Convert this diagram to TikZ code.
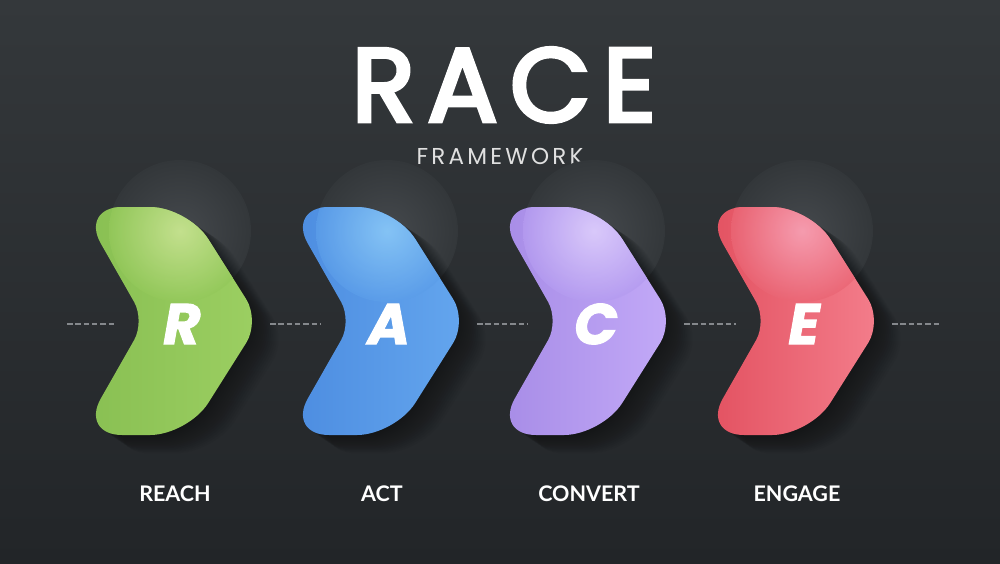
\documentclass[tikz,border=0pt]{standalone}
\usepackage{fontspec}
\setmainfont{Lato}
\newfontfamily\titlefont{Poppins}[LetterSpace=12, FakeBold=4]
\newfontfamily\letterfont{Poppins}[FakeBold=2]
\newfontfamily\subfont{Poppins}[LetterSpace=14]
\usetikzlibrary{calc}
\definecolor{bgtop}{HTML}{34383B}
\definecolor{bgbot}{HTML}{222528}
\definecolor{circin}{HTML}{45494D}
\definecolor{circout}{HTML}{33373A}
\definecolor{dashcol}{HTML}{85888C}
\definecolor{gdark}{HTML}{88BF52}\definecolor{glight}{HTML}{9CCF62}\definecolor{ghl}{HTML}{CFE69A}\definecolor{gbase}{HTML}{93C85A}
\definecolor{bdark}{HTML}{4C8CE0}\definecolor{blight}{HTML}{64A6EE}\definecolor{bhl}{HTML}{8FCDF8}\definecolor{bbase}{HTML}{5B9DE9}
\definecolor{pdark}{HTML}{A68BE6}\definecolor{plight}{HTML}{C3AAF8}\definecolor{phl}{HTML}{E2D4FD}\definecolor{pbase}{HTML}{B49BF0}
\definecolor{rdark}{HTML}{E2505F}\definecolor{rlight}{HTML}{F47E8C}\definecolor{rhl}{HTML}{F8A8BC}\definecolor{rbase}{HTML}{EA6574}
\tikzset{
  letterstyle/.style={text=white, font=\letterfont\bfseries\itshape\fontsize{57}{57}\selectfont, inner sep=0pt},
  labelstyle/.style={text=white, font=\bfseries\fontsize{21.5}{21.5}\selectfont, inner sep=0pt},
  dashline/.style={draw=dashcol, line width=1.1pt, dash pattern=on 5.5pt off 2.8pt},
}
% the corner radius given before "-- X" rounds the corner at X
\newcommand{\chevshape}{(30,-114)
  [rounded corners=38pt] -- (88,-114)
  [rounded corners=26pt] -- (160,0)
  [rounded corners=38pt] -- (88,114)
  [rounded corners=42pt] -- (-20,114)
  [rounded corners=22pt] -- (45,0)
  [rounded corners=42pt] -- (-20,-114)
  [sharp corners] -- cycle}
% #1 x0, #2 index, #3 prefix colour, #4 letter, #5 label
\newcommand{\racechev}[5]{%
  \begin{scope}[shift={(#1,321)}]
    \shade[inner color=circin, outer color=circout] (80,-90) circle (71);
    \foreach \i in {1,...,14}{
      \fill[black, opacity=0.03] [shift={(\i*1.9,\i*1.3)}] \chevshape;
    }
    \shade[left color=#3dark, right color=#3light] \chevshape;
    \begin{scope}
      \clip \chevshape;
      \shade[inner color=#3hl, outer color=#3base, opacity=0.8] (80,-90) circle (71);
    \end{scope}
    \node[letterstyle] (let#2) at (82,3) {#4};
    \coordinate (in#2) at (14,3);
    \coordinate (out#2) at (170,3);
    \node[labelstyle] (lab#2) at (75,173) {#5};
  \end{scope}
}
\begin{document}
\begin{tikzpicture}[x=1pt,y=-1pt]
\useasboundingbox (0,0) rectangle (1000,563);
\shade[top color=bgtop, bottom color=bgbot] (0,0) rectangle (1000,563);
\node[text=white, font=\titlefont\fontsize{104}{104}\selectfont, inner sep=0pt] (title) at (504,85) {RACE};
\node[text=white!88!black, font=\subfont\fontsize{23}{23}\selectfont, inner sep=0pt] (subtitle) at (500,156) {FRAMEWORK};
\racechev{100}{1}{g}{R}{REACH}
\racechev{307}{2}{b}{A}{ACT}
\racechev{514}{3}{p}{C}{CONVERT}
\racechev{722}{4}{r}{E}{ENGAGE}
\coordinate (start) at (67,324);
\coordinate (end) at (940,324);
\draw[dashline] (start) -- (in1);
\draw[dashline] (out1) -- (in2);
\draw[dashline] (out2) -- (in3);
\draw[dashline] (out3) -- (in4);
\draw[dashline] (out4) -- (end);
\end{tikzpicture}
\end{document}
